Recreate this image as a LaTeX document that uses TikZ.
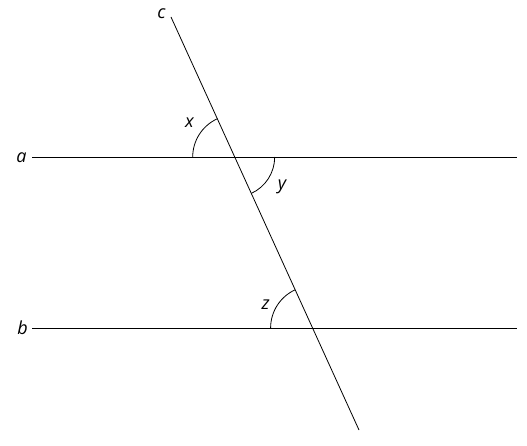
\documentclass[tikz,border=0pt]{standalone}
\usepackage{fontspec}
\setsansfont{Open Sans}
\begin{document}
\begin{tikzpicture}[x=1pt,y=1pt,line width=0.8pt,
  lbl/.style={font=\sffamily\itshape\fontsize{18}{20}\selectfont,inner sep=0pt,anchor=base}]
\useasboundingbox (0,0) rectangle (527,445);
\coordinate (a1) at (32,288);
\coordinate (a2) at (517,288);
\coordinate (b1) at (32,117);
\coordinate (b2) at (517,117);
\coordinate (c1) at (171,428);
\coordinate (c2) at (359,15);
\coordinate (ia) at (234.7,288);
\coordinate (ib) at (312.6,117);

\draw (a1) -- (a2);
\draw (b1) -- (b2);
\draw (c1) -- (c2);

\draw (ia) ++(180:42) arc[start angle=180,end angle=114.5,radius=42];
\draw (ia) ++(0:40) arc[start angle=0,end angle=-65.5,radius=40];
\draw (ib) ++(180:42) arc[start angle=180,end angle=114.5,radius=42];

\node[lbl] (la) at (21.5,282) {a};
\node[lbl] (lb) at (22.5,111) {b};
\node[lbl] (lc) at (161.5,426) {c};
\node[lbl] (lx) at (189.5,317) {x};
\node[lbl] (ly) at (282,255) {y};
\node[lbl] (lz) at (265.5,136) {z};
\end{tikzpicture}
\end{document}
